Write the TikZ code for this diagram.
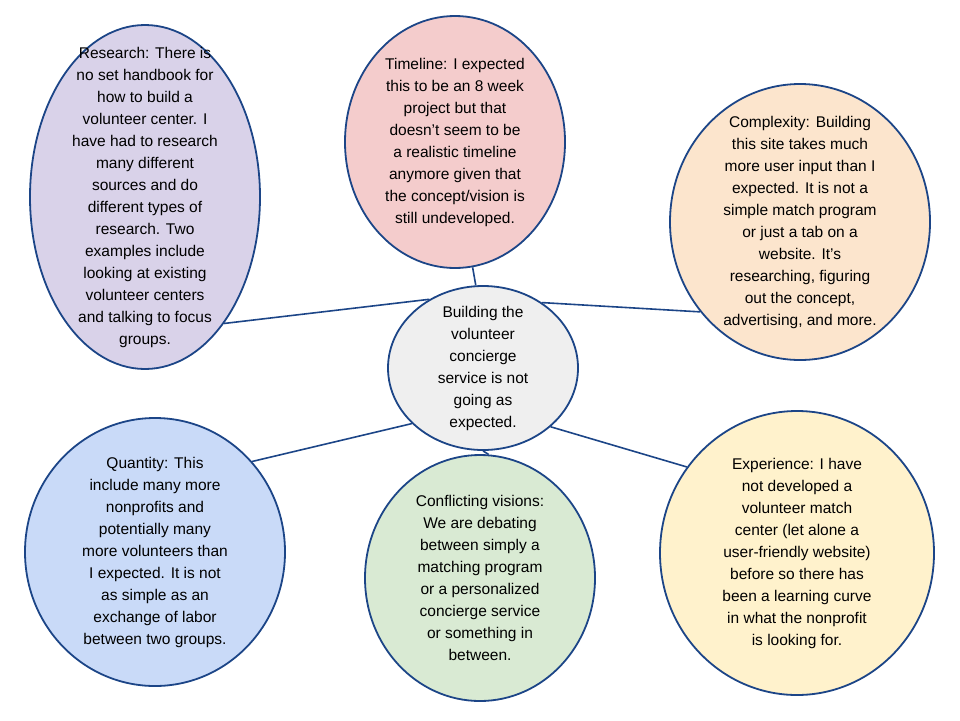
\documentclass[tikz,border=0pt]{standalone}
\usepackage{fontspec}
\setmainfont{Liberation Sans}
\usetikzlibrary{shapes.geometric}
\definecolor{edge}{HTML}{1C4587}
\definecolor{purp}{HTML}{D9D2E9}
\definecolor{pinkc}{HTML}{F4CCCC}
\definecolor{orng}{HTML}{FCE5CD}
\definecolor{grayc}{HTML}{EFEFEF}
\definecolor{bluec}{HTML}{C9DAF8}
\definecolor{grnc}{HTML}{D9EAD3}
\definecolor{yell}{HTML}{FFF2CC}
\tikzset{
  bubble/.style={ellipse, draw=edge, line width=1.8pt, inner sep=0pt},
  words/.style={align=center, font=\fontsize{15.5}{22}\selectfont},
  link/.style={draw=edge, line width=1.6pt}
}
\begin{document}
\begin{tikzpicture}[x=1pt,y=-1pt]
  \useasboundingbox (0,0) rectangle (960,720);

  % bubbles
  \node[bubble, fill=purp, minimum width=230pt, minimum height=344pt] (research) at (145,197) {};
  \node[bubble, fill=pinkc, minimum width=220pt, minimum height=252pt] (timeline) at (455,142) {};
  \node[bubble, fill=orng, minimum width=260pt, minimum height=276pt] (complex) at (800,222) {};
  \node[bubble, fill=grayc, minimum width=190pt, minimum height=164pt] (goal) at (483,368) {};
  \node[bubble, fill=bluec, minimum width=260pt, minimum height=268pt] (quantity) at (155,552) {};
  \node[bubble, fill=grnc, minimum width=230pt, minimum height=246pt] (conflict) at (480,578) {};
  \node[bubble, fill=yell, minimum width=274pt, minimum height=284pt] (exper) at (797,553) {};

  % links
  \path[link] (goal.128) -- (research.-58);
  \path[link] (goal.95) -- (timeline.-82);
  \path[link] (goal.48) -- (complex.-138);
  \path[link] (goal.-142) -- (quantity.43);
  \path[link] (goal.-90) -- (conflict.86);
  \path[link] (goal.-41) -- (exper.142);

  % texts
  \node[words] at (research) {Research: There is\\no set handbook for\\how to build a\\volunteer center. I\\have had to research\\many different\\sources and do\\different types of\\research. Two\\examples include\\looking at existing\\volunteer centers\\and talking to focus\\groups.};
  \node[words] at (timeline) {Timeline: I expected\\this to be an 8 week\\project but that\\doesn’t seem to be\\a realistic timeline\\anymore given that\\the concept/vision is\\still undeveloped.};
  \node[words] at (complex) {Complexity: Building\\this site takes much\\more user input than I\\expected. It is not a\\simple match program\\or just a tab on a\\website. It’s\\researching, figuring\\out the concept,\\advertising, and more.};
  \node[words] at (goal) {Building the\\volunteer\\concierge\\service is not\\going as\\expected.};
  \node[words] at (quantity) {Quantity: This\\include many more\\nonprofits and\\potentially many\\more volunteers than\\I expected. It is not\\as simple as an\\exchange of labor\\between two groups.};
  \node[words] at (conflict) {Conflicting visions:\\We are debating\\between simply a\\matching program\\or a personalized\\concierge service\\or something in\\between.};
  \node[words] at (exper) {Experience: I have\\not developed a\\volunteer match\\center (let alone a\\user-friendly website)\\before so there has\\been a learning curve\\in what the nonprofit\\is looking for.};

\end{tikzpicture}
\end{document}
